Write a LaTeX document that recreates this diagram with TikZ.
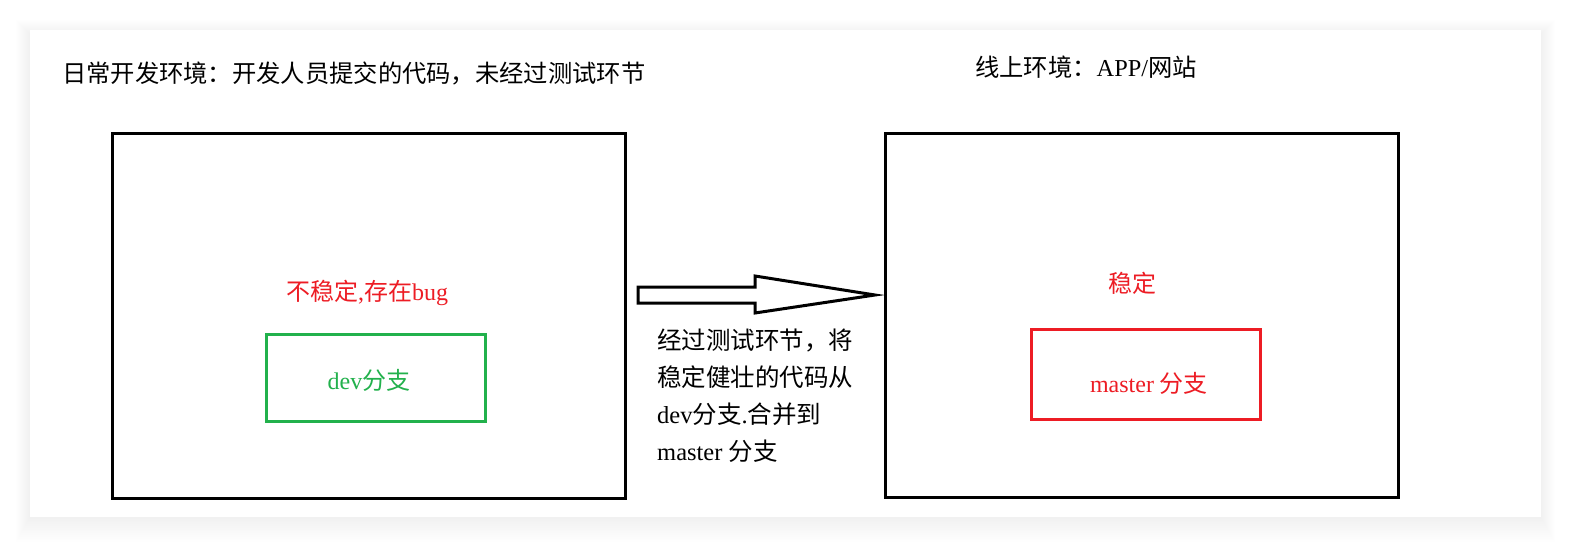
\documentclass[tikz,border=0pt]{standalone}
\usepackage{fontspec}
\setmainfont{Liberation Serif}
\newfontfamily\zhfont{Noto Sans CJK SC}
\newcommand{\zh}[1]{{\zhfont #1}}
\definecolor{gitred}{RGB}{237,28,36}
\definecolor{gitgreen}{RGB}{34,177,76}

\begin{document}
\begin{tikzpicture}[x=1pt, y=-1pt,
	envbox/.style = {draw, line width=3pt, minimum width=513pt, minimum height=364pt},
	branchbox/.style = {draw, line width=3pt},
	note/.style = {text=gitred, font=\fontsize{24}{28}\selectfont},
	title/.style = {anchor=west, inner sep=0pt, font=\fontsize{24.3}{28}\selectfont}]
	
	\useasboundingbox (0,0) rectangle (1572,548);
	\fill[white] (0,0) rectangle (1572,548);
	% soft shadow under the card
	\foreach \s in {1,...,14}
		\fill[black, opacity=0.005] (30-\s,34-\s) rectangle (1541+\s,517+1.8*\s);
	\fill[white] (30,30) rectangle (1541,517);
	
	\node[title] (devtitle) at (62,73) {\zh{日常开发环境：开发人员提交的代码，未经过测试环节}};
	\node[title] (prodtitle) at (975,67) {\zh{线上环境：}APP/\zh{网站}};
	
	% left: dev environment
	\node[envbox] (devenv) at (369,316) {};
	\node[note] (unstable) at (367,293) {\zh{不稳定},\zh{存在}bug};
	\node[branchbox, draw=gitgreen, minimum width=219pt, minimum height=87pt] (dev) at (375.5,377.5) {};
	\node[text=gitgreen, font=\fontsize{24}{28}\selectfont] (devlabel) at (369,380) {dev\zh{分支}};
	
	% right: production
	\node[envbox] (prodenv) at (1141.5,315.5) {};
	\node[note] (stable) at (1132,283) {\zh{稳定}};
	\node[branchbox, draw=gitred, minimum width=229pt, minimum height=90pt] (master) at (1146,374) {};
	\node[note] (masterlabel) at (1149,383) {master \zh{分支}};
	
	% merge arrow
	\draw[line width=3pt, line join=miter] (638,287) -- (755,287) -- (755,276) -- (875,295)
		-- (755,313) -- (755,303) -- (638,303) -- cycle;
	\node[anchor=north west, inner sep=0pt, align=left, font=\fontsize{24.5}{37}\selectfont] (merge) at (657,329)
		{\zh{经过测试环节，将}\\ \zh{稳定健壮的代码从}\\ dev\zh{分支}.\zh{合并到}\\ master \zh{分支}};
\end{tikzpicture}
\end{document}
